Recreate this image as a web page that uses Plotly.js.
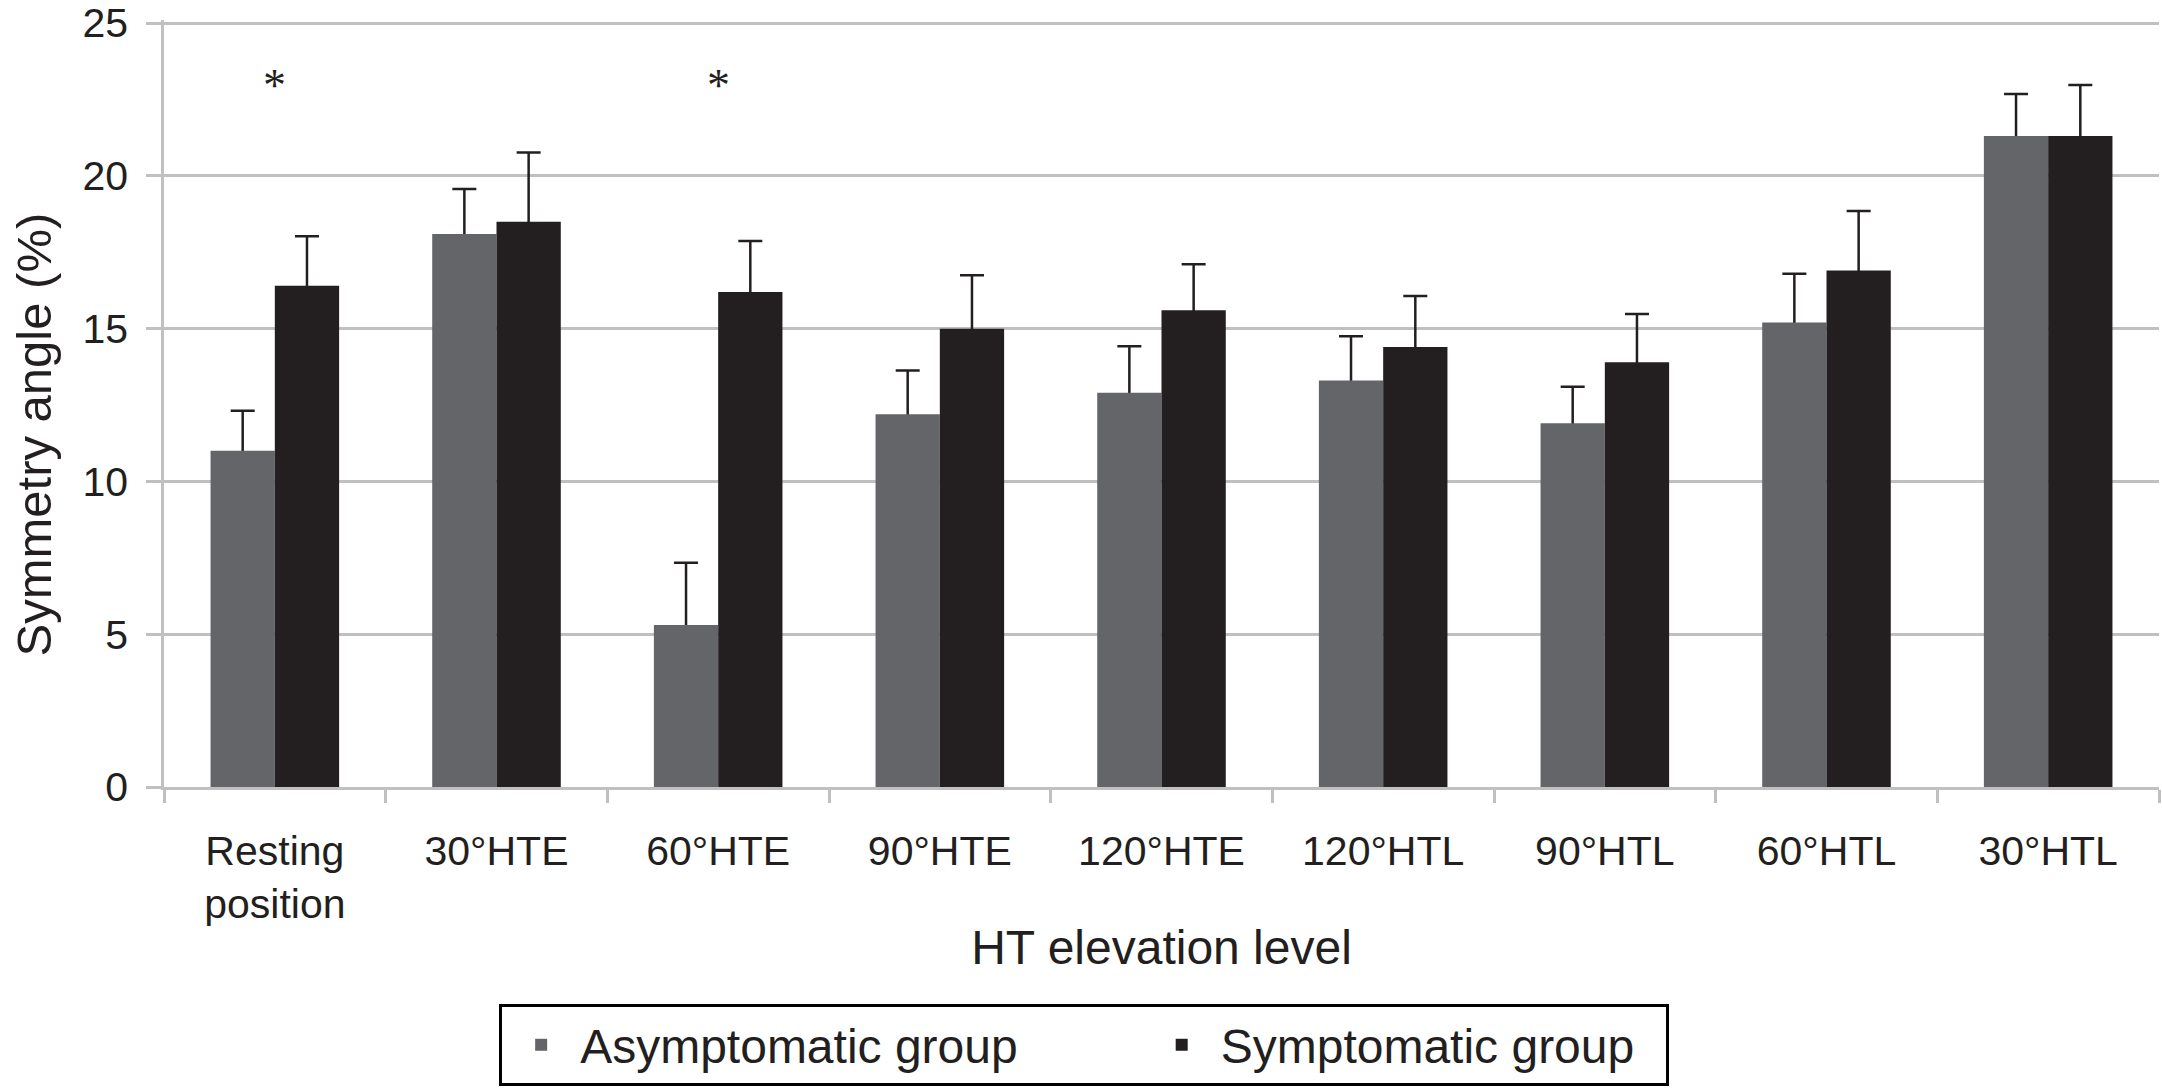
<!DOCTYPE html>
<html>
<head>
<meta charset="utf-8">
<script src="https://cdn.plot.ly/plotly-3.0.1.min.js"></script>
<style>
  html, body { margin: 0; padding: 0; background: #fff; }
  #myDiv { width: 2162px; height: 1089px; }
</style>
</head>
<body>
<div id="myDiv"></div>
<script>
var categories = ['Resting<br>position', '30°HTE', '60°HTE', '90°HTE', '120°HTE', '120°HTL', '90°HTL', '60°HTL', '30°HTL'];

var asymptomatic = [11.0, 18.1, 5.3, 12.2, 12.9, 13.3, 11.9, 15.2, 21.3];
var asymptomaticErr = [1.31, 1.47, 2.04, 1.43, 1.52, 1.45, 1.2, 1.6, 1.38];

var symptomatic = [16.4, 18.5, 16.2, 15.0, 15.6, 14.4, 13.9, 16.9, 21.3];
var symptomaticErr = [1.62, 2.26, 1.67, 1.75, 1.51, 1.67, 1.58, 1.95, 1.67];

// significant differences marked with *
var sigCategories = ['Resting<br>position', '60°HTE'];
var sigY = 22.95;

var grayCol = '#646569';
var blackCol = '#231f20';
var gridCol = '#c0c0c0';
var nb = '\u00a0';

// error bars sit in invisible bars drawn first, so the real bars hide the lower end
var errAsym = {
    x: categories,
    y: asymptomatic,
    type: 'bar',
    offsetgroup: 'a',
    marker: {color: 'rgba(0,0,0,0)'},
    error_y: {type: 'data', array: asymptomaticErr, color: blackCol, thickness: 2.5, width: 12},
    showlegend: false,
    hoverinfo: 'skip'
};

var errSym = {
    x: categories,
    y: symptomatic,
    type: 'bar',
    offsetgroup: 'b',
    marker: {color: 'rgba(0,0,0,0)'},
    error_y: {type: 'data', array: symptomaticErr, color: blackCol, thickness: 2.5, width: 12},
    showlegend: false,
    hoverinfo: 'skip'
};

var trace1 = {
    x: categories,
    y: asymptomatic,
    type: 'bar',
    offsetgroup: 'a',
    name: 'Asymptomatic group' + nb.repeat(9),
    marker: {color: grayCol}
};

var trace2 = {
    x: categories,
    y: symptomatic,
    type: 'bar',
    offsetgroup: 'b',
    name: 'Symptomatic group' + nb.repeat(2),
    marker: {color: blackCol}
};

var data = [errAsym, errSym, trace1, trace2];

var notes = sigCategories.map(function (c) {
    return {
        x: c, y: sigY, xref: 'x', yref: 'y',
        text: '*', showarrow: false,
        yanchor: 'middle',
        font: {family: 'Liberation Serif, Times New Roman, serif', size: 46, color: blackCol}
    };
});

// y title placed by hand, it sits a little below the plot middle
notes.push({
    text: 'Symmetry angle (%)',
    xref: 'paper', yref: 'paper',
    x: -0.065, y: 0.46,
    xanchor: 'center', yanchor: 'middle',
    textangle: -90,
    showarrow: false,
    font: {size: 49, color: blackCol}
});

var layout = {
    width: 2162,
    height: 1089,
    margin: {l: 164, r: 3, t: 20, b: 299, pad: 0},
    paper_bgcolor: '#ffffff',
    plot_bgcolor: '#ffffff',
    font: {family: 'Liberation Sans, Arial, sans-serif', color: blackCol},
    barmode: 'group',
    bargap: 0.42,
    bargroupgap: 0,
    showlegend: true,
    legend: {
        orientation: 'h',
        x: 0.168, xanchor: 'left',
        y: -0.283, yanchor: 'top',
        bgcolor: '#ffffff',
        bordercolor: '#000000',
        borderwidth: 3,
        itemwidth: 68,
        font: {size: 48, color: blackCol},
        traceorder: 'normal'
    },
    xaxis: {
        type: 'category',
        showline: true,
        linecolor: gridCol,
        linewidth: 2.5,
        ticks: 'outside',
        tickson: 'boundaries',
        ticklen: 13,
        tickwidth: 2.5,
        tickcolor: gridCol,
        tickfont: {size: 41, color: blackCol},
        ticklabelstandoff: 26,
        title: {text: 'HT elevation level', font: {size: 48, color: blackCol}, standoff: 5}
    },
    yaxis: {
        range: [0, 25.1],
        dtick: 5,
        showgrid: true,
        gridcolor: gridCol,
        gridwidth: 2.5,
        zeroline: false,
        showline: true,
        linecolor: gridCol,
        linewidth: 2.5,
        ticks: 'outside',
        ticklen: 15,
        tickwidth: 2.5,
        tickcolor: gridCol,
        tickfont: {size: 41, color: blackCol},
        ticklabelstandoff: 10,
        ticklabeloverflow: 'allow'
    },
    annotations: notes
};

Plotly.newPlot('myDiv', data, layout, {displayModeBar: false});
</script>
</body>
</html>
